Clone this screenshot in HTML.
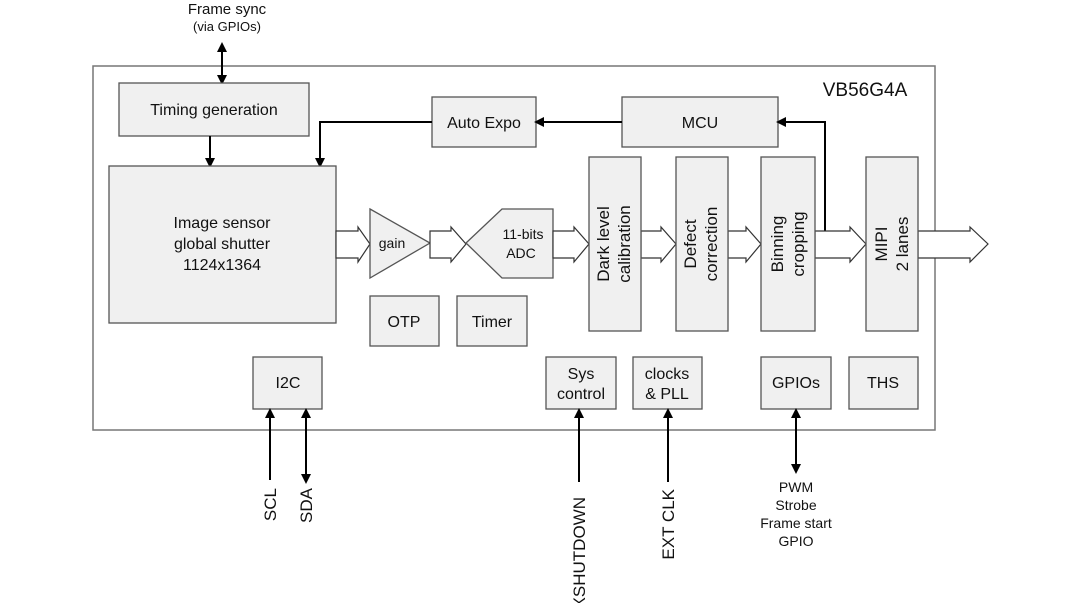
<!DOCTYPE html>
<html><head><style>
html,body{margin:0;padding:0;background:#fff;}
svg{display:block;font-family:"Liberation Sans",Arial,sans-serif;}
.b{fill:#f0f0f0;stroke:#555;stroke-width:1.3}
.t{font-size:16px;fill:#111;text-anchor:middle}
.l{stroke:#000;stroke-width:2;fill:none}
.fa{fill:#fff;stroke:#333;stroke-width:1.2}
</style></head><body>
<svg width="1080" height="603" viewBox="0 0 1080 603">
<defs>
<marker id="ah" markerWidth="10" markerHeight="10" refX="8" refY="5" orient="auto" markerUnits="userSpaceOnUse">
<path d="M0,0 L10,5 L0,10 z" fill="#000"/></marker>
<marker id="as" markerWidth="10" markerHeight="10" refX="2" refY="5" orient="auto" markerUnits="userSpaceOnUse">
<path d="M10,0 L0,5 L10,10 z" fill="#000"/></marker>
</defs>
<rect x="93" y="66" width="842" height="364" fill="#fff" stroke="#777" stroke-width="1.5"/>
<text x="865" y="96" class="t" style="font-size:19px">VB56G4A</text>

<text x="227" y="14" class="t" style="font-size:15px">Frame sync</text>
<text x="227" y="31" class="t" style="font-size:13px">(via GPIOs)</text>
<line x1="222" y1="44" x2="222" y2="83" class="l" marker-start="url(#as)" marker-end="url(#ah)"/>

<rect x="119" y="83" width="190" height="53" class="b"/>
<text x="214" y="115" class="t">Timing generation</text>
<line x1="210" y1="136" x2="210" y2="166" class="l" marker-end="url(#ah)"/>

<rect x="432" y="97" width="104" height="50" class="b"/>
<text x="484" y="128" class="t">Auto Expo</text>
<rect x="622" y="97" width="156" height="50" class="b"/>
<text x="700" y="128" class="t">MCU</text>
<line x1="622" y1="122" x2="536" y2="122" class="l" marker-end="url(#ah)"/>
<polyline points="432,122 320,122 320,166" class="l" marker-end="url(#ah)"/>
<polyline points="825,235 825,122 778,122" class="l" marker-end="url(#ah)"/>

<rect x="109" y="166" width="227" height="157" class="b"/>
<text x="222" y="228" class="t">Image sensor</text>
<text x="222" y="249" class="t">global shutter</text>
<text x="222" y="270" class="t">1124x1364</text>

<!-- fat arrows -->
<path d="M336,231 H358 V227 L370,244 L358,262 V258 H336 Z" class="fa"/>
<polygon points="370,209 430,243 370,278" class="b"/>
<text x="392" y="248" class="t" style="font-size:14px">gain</text>
<path d="M430,231 H451 V227 L466,244 L451,262 V258 H430 Z" class="fa"/>
<polygon points="466,243 502,209 553,209 553,278 502,278" class="b"/>
<text x="523" y="239" class="t" style="font-size:14px">11-bits</text>
<text x="521" y="258" class="t" style="font-size:14px">ADC</text>
<path d="M553,231 H574 V227 L589,244 L574,262 V258 H553 Z" class="fa"/>
<path d="M641,231 H661 V227 L676,244 L661,262 V258 H641 Z" class="fa"/>
<path d="M728,231 H746 V227 L761,244 L746,262 V258 H728 Z" class="fa"/>
<path d="M815,231 H850 V227 L866,244 L850,262 V258 H815 Z" class="fa"/>
<path d="M918,231 H970 V227 L988,244 L970,262 V258 H918 Z" class="fa"/>

<rect x="589" y="157" width="52" height="174" class="b"/>
<text transform="translate(609,244) rotate(-90)" class="t" style="font-size:17px">Dark level</text>
<text transform="translate(630,244) rotate(-90)" class="t" style="font-size:17px">calibration</text>
<rect x="676" y="157" width="52" height="174" class="b"/>
<text transform="translate(696,244) rotate(-90)" class="t" style="font-size:17px">Defect</text>
<text transform="translate(717,244) rotate(-90)" class="t" style="font-size:17px">correction</text>
<rect x="761" y="157" width="54" height="174" class="b"/>
<text transform="translate(783,244) rotate(-90)" class="t" style="font-size:17px">Binning</text>
<text transform="translate(804,244) rotate(-90)" class="t" style="font-size:17px">cropping</text>
<rect x="866" y="157" width="52" height="174" class="b"/>
<text transform="translate(887,244) rotate(-90)" class="t" style="font-size:17px">MIPI</text>
<text transform="translate(908,244) rotate(-90)" class="t" style="font-size:17px">2 lanes</text>

<rect x="370" y="296" width="69" height="50" class="b"/>
<text x="404" y="327" class="t">OTP</text>
<rect x="457" y="296" width="70" height="50" class="b"/>
<text x="492" y="327" class="t">Timer</text>

<rect x="253" y="357" width="69" height="52" class="b"/>
<text x="288" y="388" class="t">I2C</text>
<rect x="546" y="357" width="70" height="52" class="b"/>
<text x="581" y="379" class="t">Sys</text>
<text x="581" y="399" class="t">control</text>
<rect x="633" y="357" width="69" height="52" class="b"/>
<text x="667" y="379" class="t">clocks</text>
<text x="667" y="399" class="t">&amp; PLL</text>
<rect x="761" y="357" width="70" height="52" class="b"/>
<text x="796" y="388" class="t">GPIOs</text>
<rect x="849" y="357" width="69" height="52" class="b"/>
<text x="883" y="388" class="t">THS</text>

<line x1="270" y1="480" x2="270" y2="410" class="l" marker-end="url(#ah)"/>
<line x1="306" y1="410" x2="306" y2="482" class="l" marker-start="url(#as)" marker-end="url(#ah)"/>
<line x1="579" y1="482" x2="579" y2="410" class="l" marker-end="url(#ah)"/>
<line x1="668" y1="482" x2="668" y2="410" class="l" marker-end="url(#ah)"/>
<line x1="796" y1="410" x2="796" y2="472" class="l" marker-start="url(#as)" marker-end="url(#ah)"/>

<text transform="translate(276,488) rotate(-90)" style="font-size:17px;text-anchor:end;fill:#111">SCL</text>
<text transform="translate(312,488) rotate(-90)" style="font-size:17px;text-anchor:end;fill:#111">SDA</text>
<text transform="translate(585,497) rotate(-90)" style="font-size:17px;text-anchor:end;fill:#111">XSHUTDOWN</text>
<text transform="translate(674,489) rotate(-90)" style="font-size:17px;text-anchor:end;fill:#111">EXT CLK</text>

<text x="796" y="492" class="t" style="font-size:14px">PWM</text>
<text x="796" y="510" class="t" style="font-size:14px">Strobe</text>
<text x="796" y="528" class="t" style="font-size:14px">Frame start</text>
<text x="796" y="546" class="t" style="font-size:14px">GPIO</text>
</svg>
</body></html>
